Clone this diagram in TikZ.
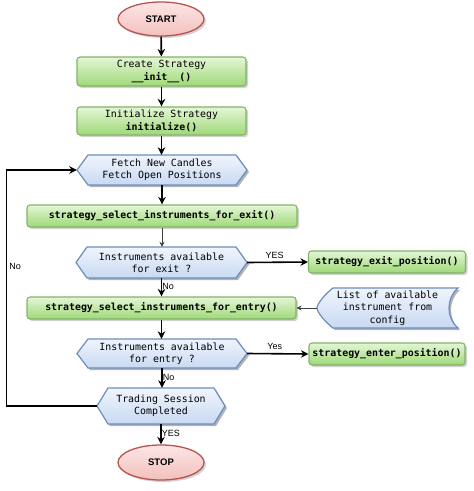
\documentclass[tikz,border=0pt]{standalone}
\usepackage{fontspec}
\setmainfont{Liberation Sans}
\setmonofont{DejaVu Sans Mono}
\usetikzlibrary{arrows.meta,shadows,shapes.geometric}
\definecolor{greendraw}{HTML}{82B366}
\definecolor{greentop}{HTML}{E4F6D6}
\definecolor{greenbot}{HTML}{9ED977}
\definecolor{bluedraw}{HTML}{6C8EBF}
\definecolor{bluetop}{HTML}{F0F5FD}
\definecolor{bluebot}{HTML}{C8D9F2}
\definecolor{reddraw}{HTML}{B85450}
\definecolor{redtop}{HTML}{FCE6E5}
\definecolor{redbot}{HTML}{F2C0BD}
\tikzset{
  mono/.style={font=\fontsize{9.9}{12.3}\selectfont\ttfamily, align=center, text=black},
  greenbox/.style={rectangle, rounded corners=3pt, draw=greendraw, line width=1.1pt,
    top color=greentop, bottom color=greenbot, inner sep=0pt,
    drop shadow={shadow xshift=2pt, shadow yshift=-2pt, fill=black!35},
    mono},
  terminal/.style={ellipse, draw=reddraw, line width=1.3pt, top color=redtop, bottom color=redbot,
    inner sep=0pt, drop shadow={shadow xshift=2pt, shadow yshift=-2pt, fill=black!35},
    font=\fontsize{9.5}{11}\selectfont\bfseries},
  hexfill/.style={top color=bluetop, bottom color=bluebot, draw=bluedraw, line width=1.2pt},
  shadowc/.style={fill=black!30},
  flow/.style={line width=1.6pt, -{Stealth[length=7.5pt,width=7.5pt]}},
  thinflow/.style={line width=0.8pt, draw=black!75, -{Stealth[length=5pt,width=5pt]}},
  lbl/.style={font=\fontsize{9}{10}\selectfont, text=black, inner sep=1pt}
}
\newcommand{\hexnode}[7]{%
  \pgfmathsetmacro\xl{#2-#4/2}\pgfmathsetmacro\xr{#2+#4/2}%
  \pgfmathsetmacro\xli{#2-#4/2+#6}\pgfmathsetmacro\xri{#2+#4/2-#6}%
  \pgfmathsetmacro\yt{#3-#5/2}\pgfmathsetmacro\yb{#3+#5/2}%
  \fill[shadowc] (\xl+2,#3+2)--(\xli+2,\yt+2)--(\xri+2,\yt+2)--(\xr+2,#3+2)--(\xri+2,\yb+2)--(\xli+2,\yb+2)--cycle;
  \shade[hexfill] (\xl,#3)--(\xli,\yt)--(\xri,\yt)--(\xr,#3)--(\xri,\yb)--(\xli,\yb)--cycle;
  \node[mono, minimum width=#4, minimum height=#5, inner sep=0pt] (#1) at (#2,#3) {#7};%
}
\begin{document}
\begin{tikzpicture}[x=1pt,y=-1pt]
\useasboundingbox (0,0) rectangle (474,491);
\fill[white] (0,0) rectangle (474,491);

% terminals
\node[terminal, minimum width=86, minimum height=34] (start) at (161,19) {START};
\node[terminal, minimum width=86, minimum height=35] (stop) at (161,462.5) {STOP};

% green boxes
\node[greenbox, minimum width=169, minimum height=29] (create) at (161.5,71.5) {Create Strategy\\\textbf{\_\_init\_\_()}};
\node[greenbox, minimum width=169, minimum height=28] (init) at (161.5,121) {Initialize Strategy\\\textbf{initialize()}};
\node[greenbox, minimum width=270, minimum height=22] (selexit) at (162,216) {\textbf{strategy\_select\_instruments\_for\_exit()}};
\node[greenbox, minimum width=157, minimum height=22] (exitpos) at (387,262) {\textbf{strategy\_exit\_position()}};
\node[greenbox, minimum width=269, minimum height=22] (selentry) at (161.5,308) {\textbf{strategy\_select\_instruments\_for\_entry()}};
\node[greenbox, minimum width=156, minimum height=22] (enterpos) at (387,354) {\textbf{strategy\_enter\_position()}};

% hexagons
\hexnode{fetch}{162}{170}{170}{30}{11}{Fetch New Candles\\Fetch Open Positions}
\hexnode{decexit}{161.5}{262.5}{171}{31}{11}{Instruments available\\for exit ?}
\hexnode{decentry}{162}{353.5}{170}{29}{11}{Instruments available\\for entry ?}
\hexnode{trading}{161}{406}{128}{36}{11}{Trading Session\\Completed}

% stored data shape
\fill[shadowc] (335,290) -- (460,290) .. controls (448,300) and (448,320) .. (460,330) -- (335,330)
  .. controls (327,324) and (319,314) .. (319,310) .. controls (319,306) and (327,296) .. (335,290) -- cycle;
\shade[hexfill] (333,288) -- (458,288) .. controls (446,298) and (446,318) .. (458,328) -- (333,328)
  .. controls (325,322) and (317,312) .. (317,308) .. controls (317,304) and (325,294) .. (333,288) -- cycle;
\node[mono, minimum width=141, minimum height=40, inner sep=0pt] (list) at (387.5,308) {List of available\\instrument from\\config};

% connectors
\draw[flow] (start) -- (create);
\draw[flow] (create) -- (init);
\draw[flow] (init.south) -- (init.south |- fetch.north);
\draw[flow] (fetch) -- (selexit);
\draw[thinflow] (selexit.south) -- (selexit.south |- decexit.north);
\draw[flow] (decexit.east) -- node[lbl, above, pos=0.45, yshift=2pt] {YES} (exitpos.west);
\draw[flow] (decexit.south) -- node[lbl, right, pos=0.45, xshift=-1pt] {No} (decexit.south |- selentry.north);
\draw[thinflow] (list.west) -- (selentry.east);
\draw[flow] (selentry.south) -- (selentry.south |- decentry.north);
\draw[flow] (decentry.east) -- node[lbl, above, pos=0.45, yshift=2pt] {Yes} (enterpos.west);
\draw[flow] (decentry.south) -- node[lbl, right, pos=0.45, xshift=-1pt] {No} (decentry.south |- trading.north);
\draw[flow] (trading.south) -- node[lbl, right, pos=0.45, xshift=-1pt] {YES} (trading.south |- stop.north);
\coordinate (lb) at (6.5,406);
\coordinate (lt) at (6.5,170);
\draw[flow] (trading.west) -- (lb) -- node[lbl, right, pos=0.59, xshift=1pt] {No} (lt) -- (fetch.west);
\end{tikzpicture}
\end{document}
